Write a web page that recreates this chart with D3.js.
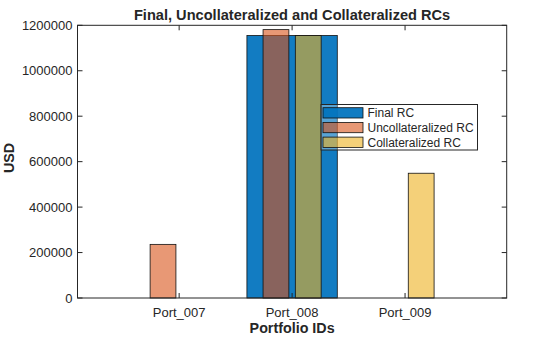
<!DOCTYPE html>
<html lang="en">
<head>
<meta charset="UTF-8">
<title>Final, Uncollateralized and Collateralized RCs</title>
<style>
  body { margin: 0; background: #fff; }
  text { font-family: "Liberation Sans", Arial, sans-serif; fill: #262626; }
</style>
</head>
<body>
<script src="https://cdn.jsdelivr.net/npm/d3@7"></script>
<script>
const portfolios = ["Port_007", "Port_008", "Port_009"];
const finalRC = [0, 1155000, 0];
const uncollRC = [236000, 1181000, 0];
const collRC = [0, 1155000, 549000];
const yTicks = [0, 200000, 400000, 600000, 800000, 1000000, 1200000];
const seriesNames = ["Final RC", "Uncollateralized RC", "Collateralized RC"];

const W = 560, H = 337;
const pLeft = 77.5, pRight = 506.7, pTop = 25.3, pBottom = 298;
const ink = "#262626";

const svg = d3.select("body").append("svg")
  .attr("width", W).attr("height", H);

const x = d3.scaleLinear().domain([0.1, 3.9]).range([pLeft, pRight]);
const y = d3.scaleLinear().domain([0, 1200000]).range([pBottom, pTop]);

const colors = ["#0072BD", "#D95319", "#EDB120"];
const alphas = [0.93, 0.6, 0.6];

// MATLAB style group widths
const gw = Math.min(0.8, 2 / 3.5);
const subW = gw / 2 * 0.8;
const offs = [-gw / 4, gw / 4];

function drawBars(vals, offset, width, k) {
  svg.append("g").selectAll("rect").data(vals).join("rect")
    .attr("x", (d, i) => x(i + 1 + offset - width / 2))
    .attr("width", x(width) - x(0))
    .attr("y", d => y(d))
    .attr("height", d => y(0) - y(d))
    .attr("fill", colors[k])
    .attr("fill-opacity", alphas[k])
    .attr("stroke", "#111")
    .attr("stroke-width", 0.8);
}

drawBars(finalRC, 0, 0.8, 0);
drawBars(uncollRC, offs[0], subW, 1);
drawBars(collRC, offs[1], subW, 2);

// box
svg.append("rect")
  .attr("x", pLeft).attr("y", pTop)
  .attr("width", pRight - pLeft).attr("height", pBottom - pTop)
  .attr("fill", "none").attr("stroke", ink).attr("stroke-width", 1);

const tl = 5;
const g = svg.append("g").attr("stroke", ink).attr("stroke-width", 1);
yTicks.forEach(t => {
  g.append("line").attr("x1", pLeft).attr("x2", pLeft + tl).attr("y1", y(t)).attr("y2", y(t));
  g.append("line").attr("x1", pRight).attr("x2", pRight - tl).attr("y1", y(t)).attr("y2", y(t));
});
portfolios.forEach((p, i) => {
  g.append("line").attr("x1", x(i + 1)).attr("x2", x(i + 1)).attr("y1", pBottom).attr("y2", pBottom - tl);
  g.append("line").attr("x1", x(i + 1)).attr("x2", x(i + 1)).attr("y1", pTop).attr("y2", pTop + tl);
});

svg.append("g").selectAll("text").data(yTicks).join("text")
  .attr("x", pLeft - 5).attr("y", d => y(d) + 4.5)
  .attr("text-anchor", "end").attr("font-size", 13)
  .text(d => d);

svg.append("g").selectAll("text").data(portfolios).join("text")
  .attr("x", (d, i) => x(i + 1)).attr("y", 316.5)
  .attr("text-anchor", "middle").attr("font-size", 13)
  .text(d => d);

svg.append("text")
  .attr("x", (pLeft + pRight) / 2).attr("y", 19.5)
  .attr("text-anchor", "middle").attr("font-size", 14.6).attr("font-weight", "bold")
  .text("Final, Uncollateralized and Collateralized RCs");

svg.append("text")
  .attr("x", (pLeft + pRight) / 2).attr("y", 333)
  .attr("text-anchor", "middle").attr("font-size", 14.3).attr("font-weight", "bold")
  .text("Portfolio IDs");

svg.append("text")
  .attr("transform", "translate(13.5,158) rotate(-90)")
  .attr("text-anchor", "middle").attr("font-size", 14.3).attr("font-weight", "bold")
  .text("USD");

// legend
const lg = svg.append("g").attr("transform", "translate(321,104.5)");
lg.append("rect").attr("width", 156.5).attr("height", 45.5)
  .attr("fill", "#fff").attr("fill-opacity", 0.3)
  .attr("stroke", ink).attr("stroke-width", 1);
seriesNames.forEach((n, k) => {
  const yy = 3.2 + k * 14.7;
  lg.append("rect").attr("x", 2).attr("y", yy).attr("width", 40).attr("height", 10.3)
    .attr("fill", colors[k]).attr("fill-opacity", alphas[k])
    .attr("stroke", "#111").attr("stroke-width", 0.8);
  lg.append("text").attr("x", 46.5).attr("y", yy + 9.6).attr("font-size", 12).text(n);
});
</script>
</body>
</html>
